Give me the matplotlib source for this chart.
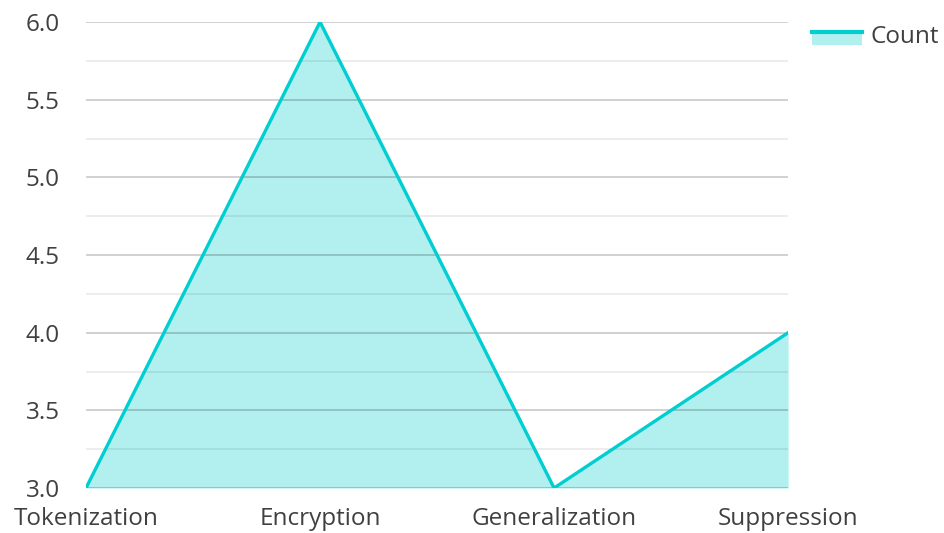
import matplotlib
matplotlib.use("Agg")
import matplotlib.pyplot as plt
from matplotlib.legend_handler import HandlerBase
from matplotlib.patches import Rectangle
from matplotlib.lines import Line2D
from matplotlib.ticker import MultipleLocator

categories = ["Tokenization", "Encryption", "Generalization", "Suppression"]
counts = [3, 6, 3, 4]

LINE = "#00CED1"
FILL = "#B2EFEF"
TEXT = "#404040"

plt.rcParams["font.family"] = ["Open Sans", "DejaVu Sans"]


class AreaHandler(HandlerBase):
    # legend key: filled box with the line along its top edge
    def create_artists(self, legend, orig, xd, yd, w, h, fs, trans):
        top = yd + h * 0.62
        rect = Rectangle((xd, yd - h * 0.15), w, top - (yd - h * 0.15),
                         facecolor=FILL, edgecolor="none", transform=trans)
        ln = Line2D([xd, xd + w], [top, top], color=LINE, lw=3, transform=trans)
        return [rect, ln]


fig = plt.figure(figsize=(9.45, 5.33), dpi=100)
ax = fig.add_axes([0.091, 0.0844, 0.743, 0.8743])

x = range(len(categories))
ax.fill_between(x, counts, 3, color=FILL, lw=0, zorder=1)
ax.plot(x, counts, color=LINE, lw=2.4, zorder=4, solid_joinstyle="miter")

ax.set_xlim(0, len(categories) - 1)
ax.set_ylim(3, 6)
ax.yaxis.set_major_locator(MultipleLocator(0.5))
ax.yaxis.set_minor_locator(MultipleLocator(0.25))
ax.set_axisbelow(False)
ax.grid(True, which="major", axis="y", color="black", alpha=0.23, lw=1.1, zorder=2)
ax.grid(True, which="minor", axis="y", color="black", alpha=0.09, lw=1.1, zorder=2)

ax.set_xticks(list(x))
ax.set_xticklabels(categories)
ax.set_yticklabels([f"{v:.1f}" for v in ax.get_yticks()])
ax.tick_params(axis="both", which="both", length=0, labelsize=17.5, colors=TEXT)
ax.tick_params(axis="y", pad=19)
ax.tick_params(axis="x", pad=14)
for s in ax.spines.values():
    s.set_visible(False)

proxy = Rectangle((0, 0), 1, 1)
fig.legend([proxy], ["Count"], handler_map={Rectangle: AreaHandler()},
           loc="upper left", bbox_to_anchor=(0.8365, 0.995), frameon=False,
           fontsize=17.5, handlelength=2.05, handletextpad=0.35, labelcolor=TEXT)

fig.savefig("out.png", dpi=100)
